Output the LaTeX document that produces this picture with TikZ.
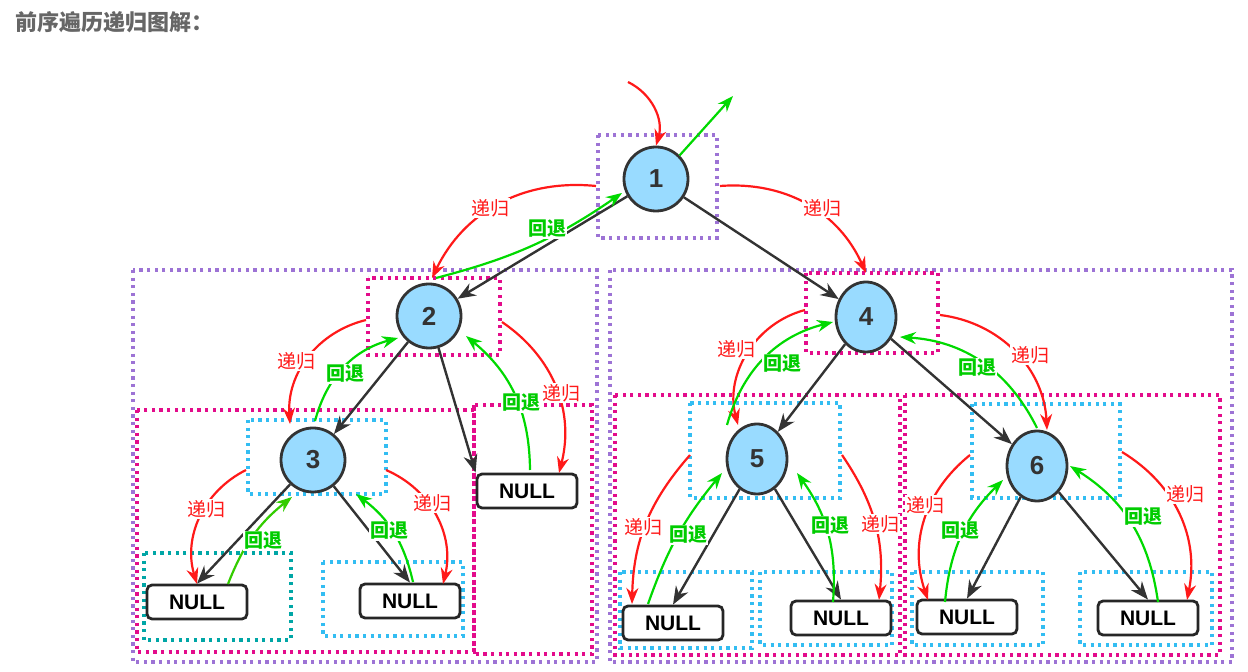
\documentclass[tikz,border=0pt]{standalone}
\usepackage{fontspec}
\setmainfont{Liberation Sans}
\newfontfamily\cjk{Noto Sans CJK SC}
\usetikzlibrary{arrows.meta,shapes.geometric}
\begin{document}
\begin{tikzpicture}[x=0.5pt,y=-0.5pt,
  circ/.style={circle,draw=black!80,line width=1.4pt,fill=blue!35!cyan!40,minimum size=32pt,inner sep=0pt,font=\bfseries\fontsize{13}{13}\selectfont,text=black!80},
  ell/.style={circ,ellipse,minimum width=30pt,minimum height=35pt},
  nul/.style={rectangle,rounded corners=2.5pt,draw=black!85,line width=1.4pt,fill=white,minimum width=50pt,minimum height=17pt,inner sep=0pt,font=\bfseries\fontsize{10.5}{10.5}\selectfont},
  edge/.style={draw=black!80,line width=1.2pt,-{Stealth[length=9pt,width=7pt]}},
  rec/.style={draw=red!90,line width=1.1pt,-{Stealth[length=8pt,width=6pt]}},
  ret/.style={draw=green!85!black,line width=1.1pt,-{Stealth[length=8pt,width=6pt]}},
  rl/.style={text=red!90,font=\cjk\fontsize{9.5}{9.5}\selectfont,fill=white,inner sep=0.5pt},
  gl/.style={text=green!80!black,font=\cjk\bfseries\fontsize{9.5}{9.5}\selectfont,fill=white,inner sep=0.5pt},
  dt/.style={line width=1.6pt,dash pattern=on 1.6pt off 2.2pt},
  bp/.style={dt,draw=blue!40!violet!55},
  mg/.style={dt,draw=magenta!90!violet},
  cy/.style={dt,draw=cyan!80},
  tl/.style={dt,draw=teal!70!cyan}]
\useasboundingbox (0,0) rectangle (1248,672);
\node[anchor=west,text=black!60,font=\cjk\bfseries\fontsize{11}{11}\selectfont] (title) at (8,22) {前序遍历递归图解：};
% dotted boxes
\draw[bp] (598,135) rectangle (717,238);
\draw[bp] (133,270) rectangle (597,662);
\draw[bp] (610,270) rectangle (1232,662);
\draw[mg] (368,278) rectangle (500,355);
\draw[mg] (137,410) rectangle (474,652);
\draw[mg] (474,405) rectangle (592,654);
\draw[cy] (248,420) rectangle (386,494);
\draw[tl] (144,553) rectangle (291,640);
\draw[cy] (323,562) rectangle (463,636);
\draw[mg] (806,273) rectangle (938,353);
\draw[mg] (615,395) rectangle (900,655);
\draw[mg] (905,395) rectangle (1220,655);
\draw[cy] (690,403) rectangle (840,498);
\draw[cy] (972,404) rectangle (1120,498);
\draw[cy] (620,572) rectangle (752,648);
\draw[cy] (760,572) rectangle (892,645);
\draw[cy] (912,572) rectangle (1043,645);
\draw[cy] (1080,572) rectangle (1212,645);
% nodes
\node[circ] (n1) at (656,179) {1};
\node[circ] (n2) at (429,316) {2};
\node[circ] (n3) at (313,460) {3};
\node[ell] (n4) at (866,317) {4};
\node[ell] (n5) at (757,459) {5};
\node[ell] (n6) at (1037,466) {6};
\node[nul] (a) at (197,602) {NULL};
\node[nul] (b) at (410,601) {NULL};
\node[nul] (c) at (527,491) {NULL};
\node[nul] (d) at (673,623) {NULL};
\node[nul] (e) at (841,618) {NULL};
\node[nul] (f) at (967,617) {NULL};
\node[nul] (g) at (1148,618) {NULL};
% tree edges
\draw[edge] (n1) -- (n2);
\draw[edge] (n1) -- (n4);
\draw[edge] (n2) -- (n3);
\draw[edge] (n2) -- (c.north west);
\draw[edge] (n3) -- (a.north);
\draw[edge] (n3) -- (b.north);
\draw[edge] (n4) -- (n5);
\draw[edge] (n4) -- (n6);
\draw[edge] (n5) -- (d.north);
\draw[edge] (n5) -- (e.north);
\draw[edge] (n6) -- (f.north);
\draw[edge] (n6) -- (g.north);
% recursion arrows
\coordinate (s0) at (628,82);
\draw[rec] (s0) to[bend left=40] (n1.north);
\draw[rec] (596,186) to[bend right=35] (432,278);
\draw[rec] (720,186) to[bend left=35] (866,273);
\draw[rec] (366,320) to[bend right=40] (290,424);
\draw[rec] (502,322) to[bend left=35] (559,473);
\draw[rec] (246,470) to[bend right=40] (197,584);
\draw[rec] (386,470) to[bend left=40] (443,584);
\draw[rec] (805,310) to[bend right=45] (738,425);
\draw[rec] (940,315) to[bend left=40] (1047,430);
\draw[rec] (690,455) to[bend right=20] (632,604);
\draw[rec] (842,455) to[bend left=20] (879,600);
\draw[rec] (970,455) to[bend right=35] (928,600);
\draw[rec] (1122,452) to[bend left=35] (1187,600);
\node[rl] (r1) at (490,208) {递归};
\node[rl] (r2) at (822,208) {递归};
\node[rl] (r3) at (296,361) {递归};
\node[rl] (r4) at (561,393) {递归};
\node[rl] (r5) at (206,509) {递归};
\node[rl] (r6) at (432,503) {递归};
\node[rl] (r7) at (736,349) {递归};
\node[rl] (r8) at (1030,355) {递归};
\node[rl] (r9) at (643,527) {递归};
\node[rl] (r10) at (880,524) {递归};
\node[rl] (r11) at (925,505) {递归};
\node[rl] (r12) at (1185,494) {递归};
% return arrows
\coordinate (e0) at (733,96);
\draw[ret] (n1.north east) -- (e0);
\draw[ret] (436,278) to[bend right=10] (622,193);
\draw[ret] (315,421) to[bend left=30] (398,338);
\draw[ret] (530,470) to[bend right=25] (466,336);
\draw[ret,draw=green!60!olive] (228,584) to[bend left=15] (292,497);
\draw[ret] (413,582) to[bend right=20] (356,494);
\draw[ret] (727,425) to[bend left=30] (833,322);
\draw[ret] (1037,428) to[bend right=30] (900,337);
\draw[ret] (648,604) to[bend left=10] (722,473);
\draw[ret] (833,602) to[bend right=20] (797,473);
\draw[ret] (945,602) to[bend left=20] (1003,480);
\draw[ret] (1158,602) to[bend right=25] (1070,466);
\node[gl] (g1) at (547,229) {回退};
\node[gl] (g2) at (345,374) {回退};
\node[gl] (g3) at (521,403) {回退};
\node[gl] (g4) at (263,541) {回退};
\node[gl] (g5) at (389,531) {回退};
\node[gl] (g6) at (782,364) {回退};
\node[gl] (g7) at (977,368) {回退};
\node[gl] (g8) at (688,535) {回退};
\node[gl] (g9) at (830,526) {回退};
\node[gl] (g10) at (960,531) {回退};
\node[gl] (g11) at (1143,517) {回退};
\end{tikzpicture}
\end{document}
